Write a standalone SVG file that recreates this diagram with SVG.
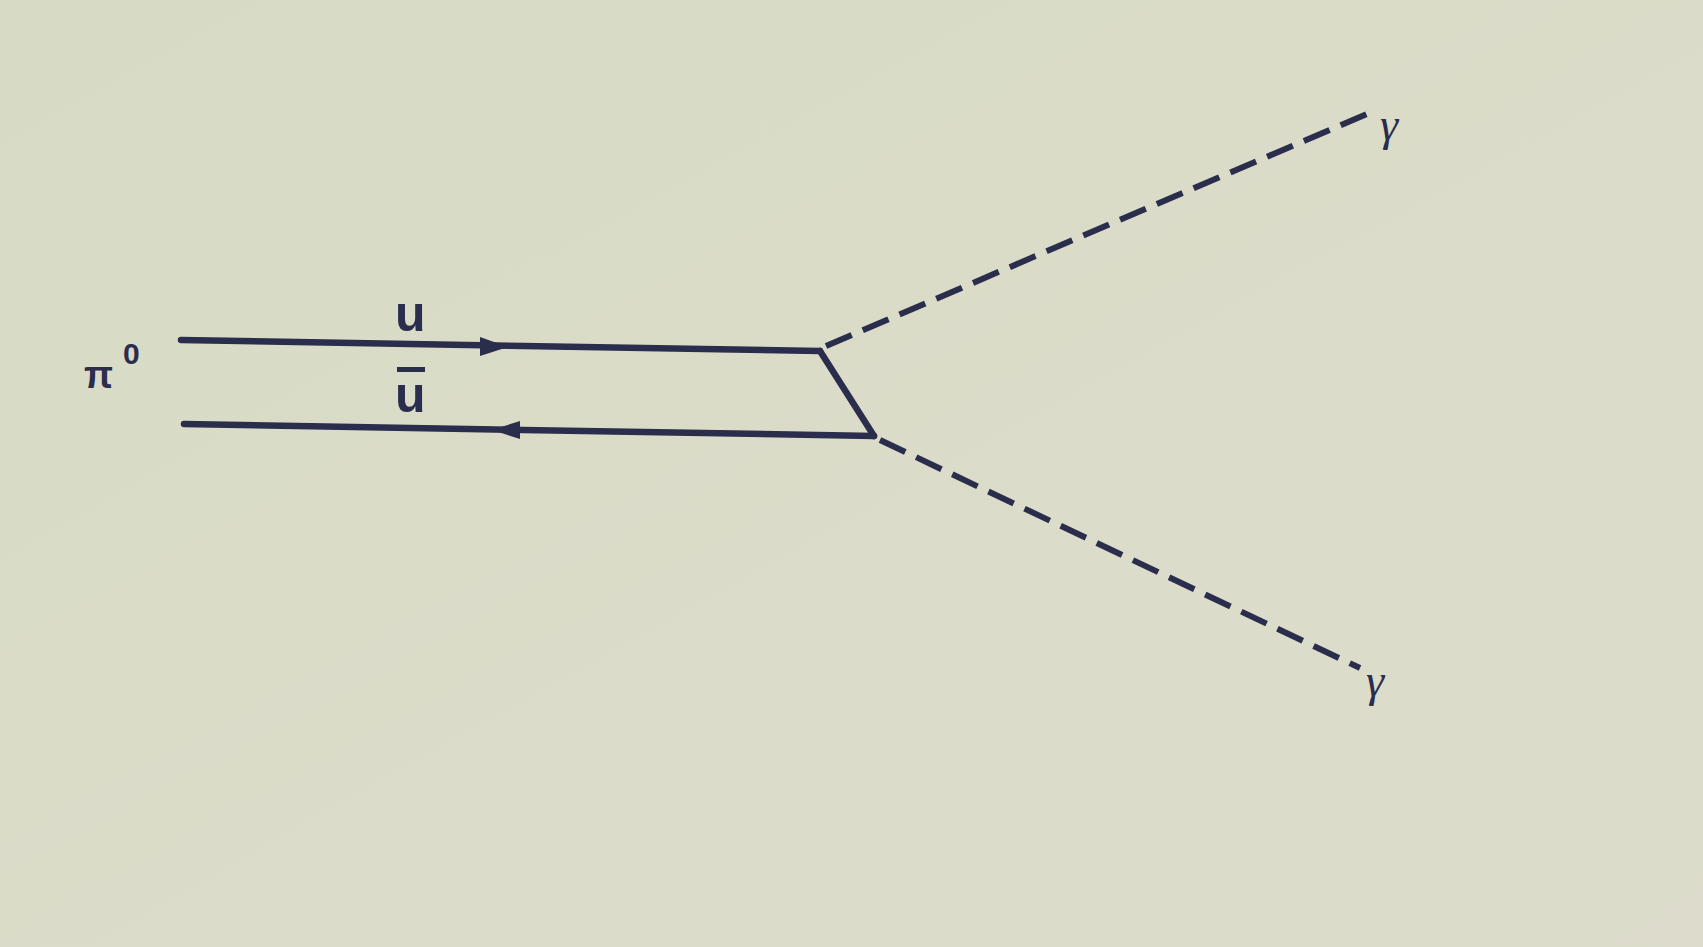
<svg xmlns="http://www.w3.org/2000/svg" width="1703" height="947" viewBox="0 0 1703 947">
<defs>
<style>
.q{stroke:#2b2d4c;stroke-width:6.5;fill:none;stroke-linecap:round;stroke-linejoin:round}
.g{stroke:#2b2d4c;stroke-width:6;fill:none;stroke-dasharray:28 12}
.lbl{font-family:"Liberation Sans",Arial,sans-serif;fill:#2b2d4c;font-weight:bold}
.gam{font-family:"Liberation Serif","Times New Roman",serif;fill:#2b2d4c;font-style:italic}
.ah{fill:#2b2d4c}
</style>
<linearGradient id="bg" x1="0" y1="0" x2="1" y2="1">
<stop offset="0" stop-color="#d7dbc5"/>
<stop offset="0.6" stop-color="#dbdcc9"/>
<stop offset="1" stop-color="#dddccc"/>
</linearGradient>
</defs>
<rect width="1703" height="947" fill="url(#bg)"/>
<g id="connectors">
<path class="q" d="M181 340 L820 351"/>
<path class="q" d="M184 424 L874 436"/>
<path class="q" d="M820 351 L874 436" stroke-width="8"/>
<path class="g" d="M826 346 L1376 110"/>
<path class="g" d="M880 440 L1360 668"/>
<polygon class="ah" points="480,337 508,347 480,356"/>
<polygon class="ah" points="492,430 520,421 520,439"/>
</g>
<g id="pi0">
<text class="lbl" x="84" y="388" font-size="38">π</text>
<text class="lbl" x="123" y="364" font-size="30">0</text>
</g>
<g id="u">
<text class="lbl" x="395" y="331" font-size="50">u</text>
</g>
<g id="ubar">
<text class="lbl" x="395" y="412" font-size="50">u</text>
<rect x="397" y="367" width="28" height="5" fill="#2b2d4c"/>
</g>
<g id="gamma1">
<text class="gam" x="1380" y="140" font-size="46">γ</text>
</g>
<g id="gamma2">
<text class="gam" x="1366" y="696" font-size="46">γ</text>
</g>
</svg>
